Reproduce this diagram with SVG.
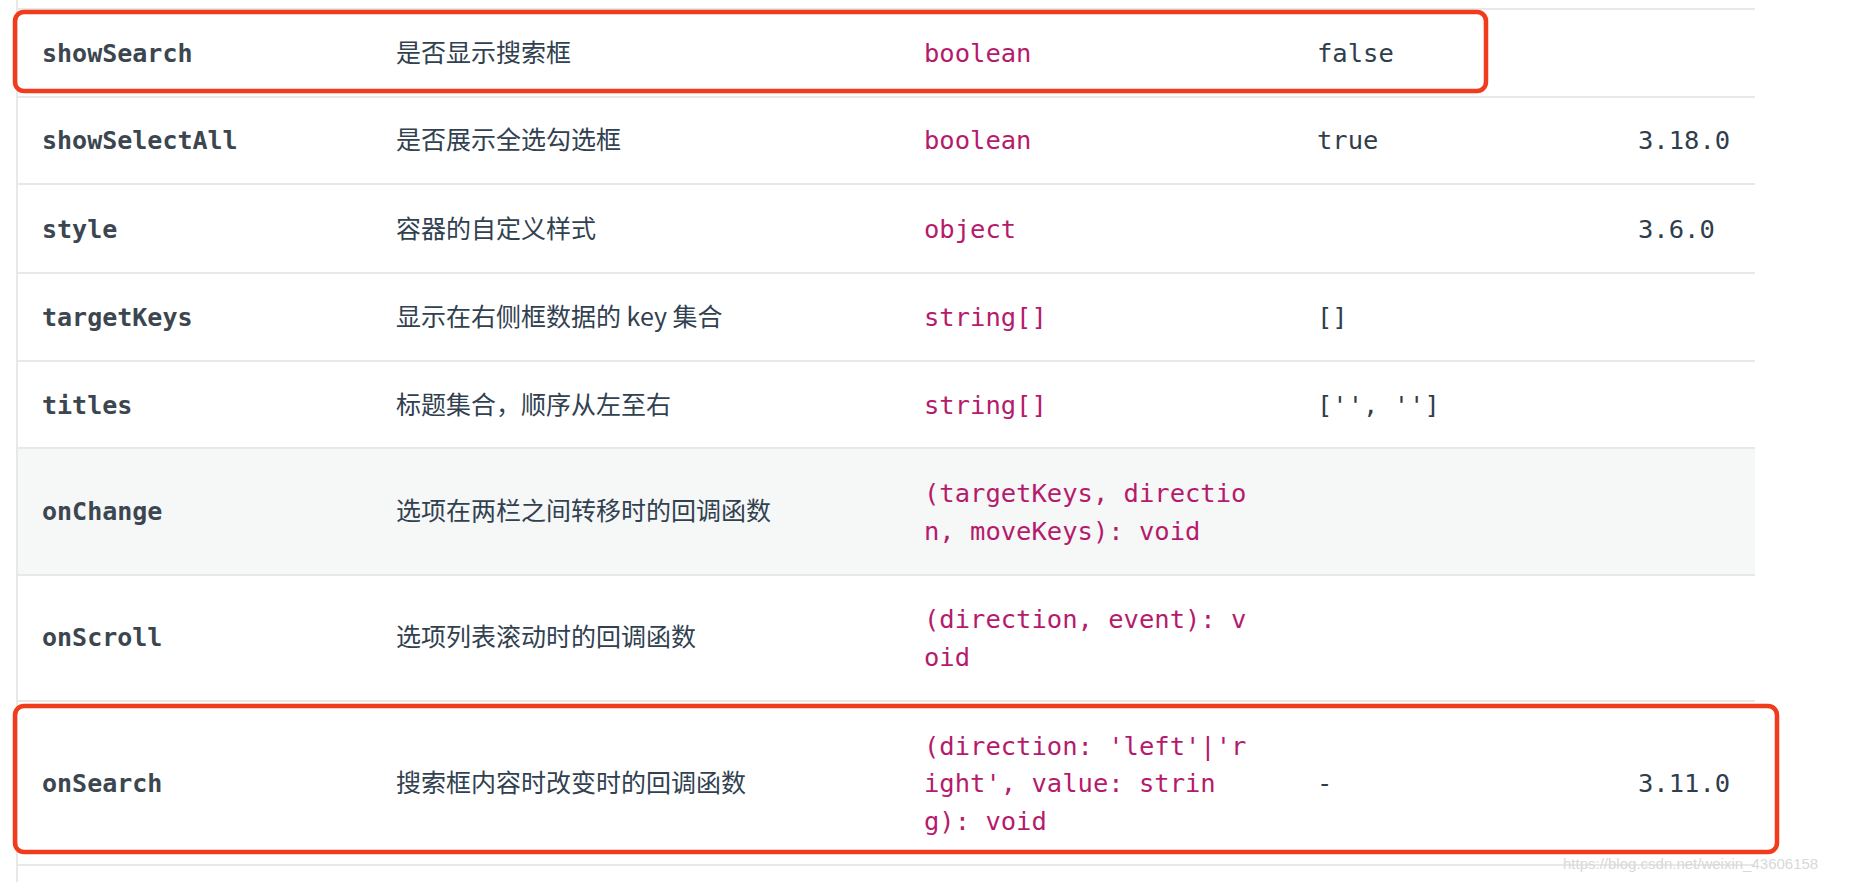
<svg xmlns="http://www.w3.org/2000/svg" width="1850" height="882" viewBox="0 0 1850 882">
<style>
.ln{stroke:#e8e8e8;stroke-width:2}
.n{font-family:"DejaVu Sans Mono",monospace;font-weight:bold;font-size:25px;fill:#3b4650}
.d{font-family:"Noto Sans CJK SC","DejaVu Sans",sans-serif;font-size:25px;fill:#314150}
.t{font-family:"DejaVu Sans Mono",monospace;font-size:25.5px;fill:#b51b6c}
.v{font-family:"DejaVu Sans Mono",monospace;font-size:25.5px;fill:#2f3e4c}
.box{fill:none;stroke:#f03b1c;stroke-width:4.5}
</style>
<rect width="1850" height="882" fill="#fff"/>
<rect x="17" y="448" width="1738" height="127" fill="#f6f7f7"/>
<g id="grid">
<line class="ln" x1="17" y1="0" x2="17" y2="882"/>
<line class="ln" x1="17" y1="9" x2="1755" y2="9"/>
<line class="ln" x1="17" y1="97" x2="1755" y2="97"/>
<line class="ln" x1="17" y1="184" x2="1755" y2="184"/>
<line class="ln" x1="17" y1="273" x2="1755" y2="273"/>
<line class="ln" x1="17" y1="361" x2="1755" y2="361"/>
<line class="ln" x1="17" y1="448" x2="1755" y2="448"/>
<line class="ln" x1="17" y1="575" x2="1755" y2="575"/>
<line class="ln" x1="17" y1="701" x2="1755" y2="701"/>
<line class="ln" x1="17" y1="865" x2="1755" y2="865"/>
</g>
<g id="r1"><text class="n" x="42" y="62">showSearch</text><text class="d" x="396" y="62">是否显示搜索框</text><text class="t" x="924" y="62">boolean</text><text class="v" x="1317" y="62">false</text></g>
<g id="r2"><text class="n" x="42" y="149">showSelectAll</text><text class="d" x="396" y="149">是否展示全选勾选框</text><text class="t" x="924" y="149">boolean</text><text class="v" x="1317" y="149">true</text><text class="v" x="1638" y="149">3.18.0</text></g>
<g id="r3"><text class="n" x="42" y="238">style</text><text class="d" x="396" y="238">容器的自定义样式</text><text class="t" x="924" y="238">object</text><text class="v" x="1638" y="238">3.6.0</text></g>
<g id="r4"><text class="n" x="42" y="326">targetKeys</text><text class="d" x="396" y="326">显示在右侧框数据的 key 集合</text><text class="t" x="924" y="326">string[]</text><text class="v" x="1317" y="326">[]</text></g>
<g id="r5"><text class="n" x="42" y="414">titles</text><text class="d" x="396" y="414">标题集合，顺序从左至右</text><text class="t" x="924" y="414">string[]</text><text class="v" x="1317" y="414">['', '']</text></g>
<g id="r6"><text class="n" x="42" y="520">onChange</text><text class="d" x="396" y="520">选项在两栏之间转移时的回调函数</text><text class="t" x="924" y="502">(targetKeys, directio</text><text class="t" x="924" y="540">n, moveKeys): void</text></g>
<g id="r7"><text class="n" x="42" y="646">onScroll</text><text class="d" x="396" y="646">选项列表滚动时的回调函数</text><text class="t" x="924" y="628">(direction, event): v</text><text class="t" x="924" y="666">oid</text></g>
<g id="r8"><text class="n" x="42" y="792">onSearch</text><text class="d" x="396" y="792">搜索框内容时改变时的回调函数</text><text class="t" x="924" y="755">(direction: 'left'|'r</text><text class="t" x="924" y="792">ight', value: strin</text><text class="t" x="924" y="830">g): void</text><text class="v" x="1317" y="792">-</text><text class="v" x="1638" y="792">3.11.0</text></g>
<g id="highlights">
<rect class="box" x="15" y="12" width="1471" height="79" rx="9"/>
<rect class="box" x="15" y="706" width="1762" height="146" rx="9"/>
</g>
<text x="1563" y="869" font-family="Liberation Sans,sans-serif" font-size="15" fill="#d8d8d8">https://blog.csdn.net/weixin_43606158</text>
</svg>
